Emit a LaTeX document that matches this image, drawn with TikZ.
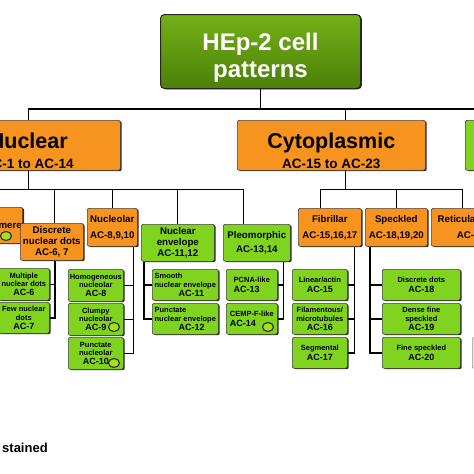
\documentclass[tikz,border=0pt]{standalone}
\usepackage{fontspec}
\setmainfont{Liberation Sans}
\usetikzlibrary{shadows}
\definecolor{boxorange}{RGB}{247,148,32}
\definecolor{leafgreen}{RGB}{128,212,32}
\definecolor{rootdark}{RGB}{76,128,8}
\definecolor{rootlight}{RGB}{116,176,24}
\newcommand{\acode}[1]{{\fontsize{9}{10}\selectfont #1}}
\begin{document}
\begin{tikzpicture}[x=1pt,y=-1pt,
    box/.style={draw=black!75,line width=0.6pt,rounded corners=2pt,inner sep=1pt,align=center,anchor=north west,
      drop shadow={shadow xshift=1.4pt,shadow yshift=-0.8pt,opacity=1,fill=black!85}},
    root/.style={box,rounded corners=4pt,line width=1pt,draw=black!85,top color=rootlight,bottom color=rootdark,
      text=white,font=\fontsize{24}{27}\selectfont\bfseries},
    catbox/.style={box,fill=boxorange,minimum height=50pt,font=\fontsize{21.5}{22}\selectfont\bfseries},
    grpbox/.style={box,fill=boxorange,font=\fontsize{9.7}{11}\selectfont\bfseries},
    grnbox/.style={box,fill=leafgreen,font=\fontsize{9.7}{11}\selectfont\bfseries},
    leaf/.style={box,fill=leafgreen,font=\fontsize{7.5}{8.8}\selectfont\bfseries},
    tree/.style={line width=1.1pt},
    spine/.style={line width=1.6pt},
    stainmark/.style={fill=leafgreen!70!yellow,draw=black!80,line width=1.2pt}]
  \useasboundingbox (0,0) rectangle (474,474);
  \clip (0,0) rectangle (474,474);

  \node[root,minimum width=200pt,minimum height=74pt] (root) at (160,14) {\rule{0pt}{30pt}HEp-2 cell\\patterns};
  \node[catbox,minimum width=184pt] (nuc) at (-64,120) {\rule{0pt}{27pt}Nuclear\\[-2pt]{\fontsize{13.5}{15}\selectfont AC-1 to AC-14}};
  \node[catbox,minimum width=188pt] (cyto) at (237,120) {\rule{0pt}{27pt}Cytoplasmic\\[-2pt]{\fontsize{13.5}{15}\selectfont AC-15 to AC-23}};
  \node[catbox,fill=leafgreen,minimum width=188pt] (mit) at (465,120) {};

  \draw[tree] (root.south) -- ++(0,20) coordinate (rbus);
  \draw[tree] (rbus) -| (nuc.north);
  \draw[tree] (rbus) -| ([xshift=14pt]cyto.north);
  \draw[tree] (rbus) -| (mit.north);

  \node[grpbox,minimum width=56pt,minimum height=36pt] (cen) at (-34,207) {Centromere};
  \node[grpbox,minimum width=63pt,minimum height=37pt] (dnd) at (20,223) {Discrete\\nuclear dots\\AC-6, 7};
  \node[grpbox,minimum width=50pt,minimum height=38pt] (nlr) at (87,208) {Nucleolar\\[5pt]AC-8,9,10};
  \node[grnbox,minimum width=73pt,minimum height=37pt] (nenv) at (141,224) {Nuclear\\envelope\\AC-11,12};
  \node[grnbox,minimum width=67pt,minimum height=37pt] (pleo) at (223,224) {Pleomorphic\\[3pt]AC-13,14};
  \node[grpbox,minimum width=63pt,minimum height=38pt] (fib) at (298,208) {Fibrillar\\[5pt]AC-15,16,17};
  \node[grpbox,minimum width=62pt,minimum height=38pt] (spk) at (365,208) {Speckled\\[5pt]AC-18,19,20};
  \node[grpbox,minimum width=79pt,minimum height=38pt] (ret) at (431,208) {Reticular/AMA\\[5pt]AC-21};

  \draw[tree] (nuc.south) -- ++(0,19) coordinate (nbus);
  \foreach \nm in {cen,nlr,nenv}
    \draw[tree] (nbus) -| (\nm.north);
  \draw[tree] (nbus) -| ([xshift=3pt]dnd.north);
  \draw[tree] (nbus) -| ([xshift=-13.5pt]pleo.north);
  \draw[tree] ([xshift=14pt]cyto.south) -- ++(0,19) coordinate (cbus);
  \draw[tree] (cbus) -| ([xshift=-9.5pt]fib.north);
  \draw[tree] (cbus) -| (spk.north);
  \draw[tree] (cbus) -| ([xshift=-8pt]ret.north);

  \foreach \nm/\y/\h/\txt in {mnd/268/32/{Multiple\\nuclear dots\\\acode{AC-6}},fnd/302/31/{Few nuclear\\dots\\\acode{AC-7}}}
    \node[leaf,minimum width=51pt,minimum height=\h pt] (\nm) at (-2,\y) {\txt};
  \foreach \nm/\y/\txt in {hnl/269/{Homogeneous\\nucleolar\\\acode{AC-8}},cln/303/{Clumpy\\nucleolar\\\acode{AC-9}\hspace{12pt}},pnl/337/{Punctate\\nucleolar\\\acode{AC-10}\hspace{10pt}}}
    \node[leaf,minimum width=55pt,minimum height=32pt] (\nm) at (68,\y) {\txt};
  \foreach \nm/\y/\txt in {snv/269/{Smooth\\nuclear envelope\\\hspace*{24pt}\acode{AC-11}},pnv/303/{Punctate\\nuclear envelope\\\hspace*{24pt}\acode{AC-12}}}
    \node[leaf,align=left,minimum width=66pt,minimum height=31pt] (\nm) at (152,\y) {\txt};
  \foreach \nm/\y/\txt in {pcn/269/{PCNA-like\\[2pt]\acode{AC-13}},cmp/303/{CEMP-F-like\\[2pt]\acode{AC-14}}}
    \node[leaf,align=left,inner xsep=3pt,minimum width=51pt,minimum height=31pt] (\nm) at (226,\y) {\txt};
  \foreach \nm/\y/\txt in {lin/269/{Linear/actin\\[2pt]\acode{AC-15}},fil/303/{Filamentous/\\microtubules\\\acode{AC-16}},seg/337/{Segmental\\[2pt]\acode{AC-17}}}
    \node[leaf,minimum width=55pt,minimum height=31pt] (\nm) at (292,\y) {\txt};
  \foreach \nm/\y/\txt in {dsd/269/{Discrete dots\\[2pt]\acode{AC-18}},dfs/303/{Dense fine\\speckled\\\acode{AC-19}},fsp/337/{Fine speckled\\[2pt]\acode{AC-20}}}
    \node[leaf,minimum width=78pt,minimum height=31pt] (\nm) at (382,\y) {\txt};
  \node[box,fill=black!10,draw=black!40,minimum width=60pt,minimum height=31pt] (rtl) at (472,337) {};

  \foreach \nm in {mnd,fnd}
    \draw[spine] ([xshift=3pt]dnd.south) |- (\nm.east);
  \foreach \nm in {hnl,cln,pnl}
    \draw[spine] ([xshift=21pt]nlr.south) |- (\nm.east);
  \foreach \nm in {snv,pnv}
    \draw[spine] ([xshift=3pt]nenv.south west) |- (\nm.west);
  \foreach \nm in {pcn,cmp}
    \draw[spine] ([xshift=-7pt]pleo.south east) |- (\nm.east);
  \foreach \nm in {lin,fil,seg}
    \draw[spine] ([xshift=-7pt]fib.south east) |- (\nm.east);
  \foreach \nm in {dsd,dfs,fsp}
    \draw[spine] ([xshift=5pt]spk.south west) |- (\nm.west);

  \foreach \cx/\cy in {6/236,114/327,114/363,268/327}
    \draw[stainmark] (\cx,\cy) ellipse [x radius=5.5,y radius=4.5];

  \node[anchor=west,inner sep=0pt,font=\fontsize{13}{15}\selectfont\bfseries] (stn) at (2,448) {stained};
\end{tikzpicture}
\end{document}
